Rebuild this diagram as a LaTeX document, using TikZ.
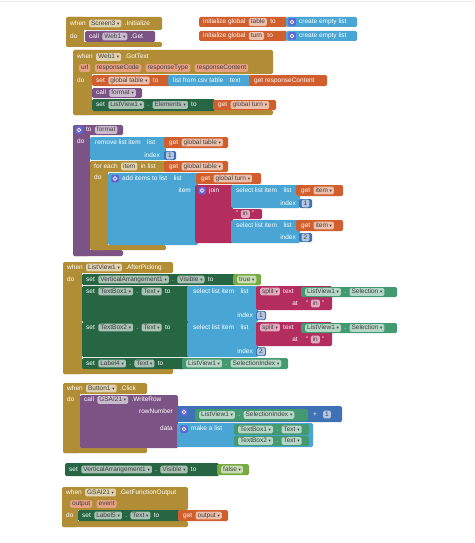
\documentclass[tikz,border=0pt]{standalone}
\usepackage{fontspec}
\setmainfont{Liberation Sans}
\newfontfamily\symfont{DejaVu Sans}
\usetikzlibrary{positioning}
\definecolor{ctrl}{RGB}{177,142,53}
\definecolor{method}{RGB}{124,83,133}
\definecolor{list}{RGB}{73,166,212}
\definecolor{textc}{RGB}{179,45,94}
\definecolor{var}{RGB}{208,95,45}
\definecolor{compset}{RGB}{38,102,67}
\definecolor{compget}{RGB}{67,153,112}
\definecolor{logic}{RGB}{119,171,65}
\definecolor{math}{RGB}{63,113,181}
\definecolor{gearcol}{RGB}{95,100,215}
\definecolor{parmcol}{RGB}{230,160,130}
\newcommand{\fs}{\fontsize{6.5}{7}\selectfont}
\newcommand{\dd}{~{\symfont\fontsize{4.5}{5}\selectfont ▾}}
% plain block and C-shaped block
\newcommand{\blk}[5]{\fill[#1, rounded corners=1.5pt] (#2,#3) rectangle (#4,#5);}
\newcommand{\cblk}[8]{%
  \fill[#1, rounded corners=1.5pt] (#2,#3) rectangle (#4,#5);
  \fill[#1, rounded corners=1.5pt] (#2,#3) rectangle (#6,#8);
  \fill[#1, rounded corners=1.5pt] (#2,#7) rectangle (#4,#8);}
\newcommand{\gear}[3]{\node[gearbox] (#1) at (#2,#3) {};
  \draw[white, line width=.7pt] (#1) circle (1.9pt);}
\newcommand{\numbox}[6]{\blk{math}{#2}{#3}{#4}{#5}
  \node[fld] (#1) at ({(#2+#4)/2},{(#3+#5)/2}) {#6};}

\begin{document}
\begin{tikzpicture}[x=1pt, y=-1pt, node distance=3pt,
  lbl/.style={inner sep=0pt, text=white, font=\fs, text height=4.6pt, text depth=1.3pt},
  fld/.style={fill=white, fill opacity=.6, text opacity=1, text=black!75, rounded corners=1.5pt,
    inner xsep=2pt, inner ysep=1pt, font=\fs, text height=4.6pt, text depth=1.3pt},
  prm/.style={fld, fill=parmcol, fill opacity=1},
  gearbox/.style={fill=gearcol, rounded corners=1pt, minimum size=7.5pt, inner sep=0pt},
  w/.style={anchor=west}
]
\useasboundingbox (0,0) rectangle (474,543);
\fill[white] (0,0) rectangle (474,543);
\draw[black!8, line width=1pt] (0,2) -- (474,2);

% when Screen3.Initialize
\cblk{ctrl}{66}{17}{162}{30}{84}{42}{47}
\node[lbl, w] (a1) at (70,23.5) {when};
\node[fld, right=of a1] (a2) {Screen3\dd};
\node[lbl, right=of a2] (a3) {.Initialize};
\node[lbl, w] (a4) at (70,36.5) {do};
\blk{method}{85}{31}{155}{42}
\node[lbl, w] (a5) at (89,36.5) {call};
\node[fld, right=of a5] (a6) {Web1\dd};
\node[lbl, right=of a6] (a7) {.Get};

% globals
\blk{var}{199}{17}{287}{27}
\node[lbl, w] (g1) at (203,22) {initialize global};
\node[fld, right=of g1] (g2) {table};
\node[lbl, right=of g2] (g3) {to};
\blk{list}{286}{17}{357}{27}
\gear{g4}{292}{22}
\node[lbl, right=of g4] (g5) {create empty list};
\blk{var}{199}{31}{287}{41}
\node[lbl, w] (g6) at (203,36) {initialize global};
\node[fld, right=of g6] (g7) {turn};
\node[lbl, right=of g7] (g8) {to};
\blk{list}{286}{31}{357}{41}
\gear{g9}{292}{36}
\node[lbl, right=of g9] (g10) {create empty list};

% when Web1.GotText
\cblk{ctrl}{73}{50}{273}{74}{92}{110}{115}
\node[lbl, w] (b1) at (77,57) {when};
\node[fld, right=of b1] (b2) {Web1\dd};
\node[lbl, right=of b2] (b3) {.GotText};
\node[prm, w] (b4) at (79,68) {url};
\node[prm, right=4pt of b4] (b5) {responseCode};
\node[prm, right=4pt of b5] (b6) {responseType};
\node[prm, right=4pt of b6] (b7) {responseContent};
\node[lbl, w] (b8) at (77,80.5) {do};
\blk{var}{92}{75}{170}{86}
\node[lbl, w] (b9) at (96,80.5) {set};
\node[fld, right=of b9] (b10) {global table\dd};
\node[lbl, right=of b10] (b11) {to};
\blk{list}{168}{75}{251}{86}
\node[lbl, w] (b12) at (173,80.5) {list from csv table\quad text};
\blk{var}{249}{75}{327}{86}
\node[lbl, w] (b13) at (254,80.5) {get responseContent};
\blk{method}{92}{88}{142}{98}
\node[lbl, w] (b14) at (96,93) {call};
\node[fld, right=of b14] (b15) {format\dd};
\blk{compset}{92}{99}{215}{111}
\node[lbl, w] (b16) at (96,105) {set};
\node[fld, right=of b16] (b17) {ListView1\dd};
\node[lbl, right=of b17] (b18) {.};
\node[fld, right=of b18] (b19) {Elements\dd};
\node[lbl, right=of b19] (b20) {to};
\blk{var}{213}{100}{276}{110}
\node[lbl, w] (b21) at (218,105) {get};
\node[fld, right=of b21] (b22) {global turn\dd};

% to format
\cblk{method}{73}{125}{123}{135}{90}{250}{256}
\gear{c1}{79}{130}
\node[lbl, right=of c1] (c2) {to};
\node[fld, right=of c2] (c3) {format};
\node[lbl, w] (c4) at (77,142) {do};
\blk{list}{90}{137}{166}{160}
\node[lbl, w] (c5) at (95,142.5) {remove list item\quad list};
\blk{var}{164}{137}{228}{148}
\node[lbl, w] (c6) at (169,142.5) {get};
\node[fld, right=of c6] (c7) {global table\dd};
\node[lbl, anchor=east] (c8) at (160,155.5) {index};
\numbox{c9}{164}{151}{176}{160}{1}
\cblk{ctrl}{90}{161}{166}{172}{108}{245}{250}
\node[lbl, w] (c10) at (94,166.5) {for each};
\node[fld, right=of c10] (c11) {item};
\node[lbl, right=of c11] (c12) {in list};
\blk{var}{164}{161}{228}{172}
\node[lbl, w] (c13) at (169,166.5) {get};
\node[fld, right=of c13] (c14) {global table\dd};
\node[lbl, w] (c15) at (94,178) {do};
\blk{list}{108}{173}{198}{245}
\gear{c16}{115}{178.5}
\node[lbl, right=of c16] (c17) {add items to list\quad list};
\blk{var}{196}{173}{261}{184}
\node[lbl, w] (c18) at (201,178.5) {get};
\node[fld, right=of c18] (c19) {global turn\dd};
\node[lbl, anchor=east] (c20) at (191,190.5) {item};
\blk{textc}{195}{185}{233}{243}
\gear{c21}{202}{190.5}
\node[lbl, right=of c21] (c22) {join};
\blk{list}{231}{185}{300}{208}
\node[lbl, w] (c23) at (236,190.5) {select list item\quad list};
\blk{var}{296}{185}{343}{196}
\node[lbl, w] (c24) at (301,190.5) {get};
\node[fld, right=of c24] (c25) {item\dd};
\node[lbl, anchor=east] (c26) at (296,203.5) {index};
\numbox{c27}{299}{199}{312}{208}{1}
\blk{textc}{231}{209}{262}{219}
\node[lbl, w] (c28) at (236,214) {"};
\node[fld, right=2pt of c28] (c29) {in};
\node[lbl, right=2pt of c29] (c30) {"};
\blk{list}{231}{220}{300}{243}
\node[lbl, w] (c31) at (236,225.5) {select list item\quad list};
\blk{var}{296}{220}{343}{231}
\node[lbl, w] (c32) at (301,225.5) {get};
\node[fld, right=of c32] (c33) {item\dd};
\node[lbl, anchor=east] (c34) at (296,238) {index};
\numbox{c35}{299}{233}{312}{242}{2}

% when ListView1.AfterPicking
\cblk{ctrl}{63}{262}{173}{273}{82}{368}{374}
\node[lbl, w] (d1) at (67,267.5) {when};
\node[fld, right=of d1] (d2) {ListView1\dd};
\node[lbl, right=of d2] (d3) {.AfterPicking};
\node[lbl, w] (d4) at (67,279.5) {do};
\blk{compset}{82}{274}{236}{285}
\node[lbl, w] (d5) at (86,279.5) {set};
\node[fld, right=of d5] (d6) {VerticalArrangement1\dd};
\node[lbl, right=of d6] (d7) {.};
\node[fld, right=of d7] (d8) {Visible\dd};
\node[lbl, right=of d8] (d9) {to};
\blk{logic}{233}{274}{261}{285}
\node[fld, w] (d10) at (237,279.5) {true\dd};
% set TextBox1.Text
\blk{compset}{82}{286}{190}{322}
\node[lbl, w] (d11) at (86,291.5) {set};
\node[fld, right=of d11] (d12) {TextBox1\dd};
\node[lbl, right=of d12] (d13) {.};
\node[fld, right=of d13] (d14) {Text\dd};
\node[lbl, right=of d14] (d15) {to};
\blk{list}{187}{286}{258}{322}
\node[lbl, w] (d16) at (193,291.5) {select list item\quad list};
\node[lbl, anchor=east] (d17) at (253,315.5) {index};
\numbox{d18}{256}{311}{266}{320}{1}
\blk{textc}{256}{286}{332}{310}
\node[fld, w] (d19) at (260,291.5) {split\dd};
\node[lbl, right=of d19] (d20) {text};
\blk{compget}{301}{287}{397}{297}
\node[fld, w] (d21) at (305,292) {ListView1\dd};
\node[lbl, right=of d21] (d22) {.};
\node[fld, right=of d22] (d23) {Selection\dd};
\node[lbl, anchor=east] (d24) at (298,303.5) {at};
\node[lbl, w] (d25) at (306,303.5) {"};
\node[fld, right=2pt of d25] (d26) {in};
\node[lbl, right=2pt of d26] (d27) {"};
% set TextBox2.Text
\blk{compset}{82}{322}{190}{357}
\node[lbl, w] (d28) at (86,327.5) {set};
\node[fld, right=of d28] (d29) {TextBox2\dd};
\node[lbl, right=of d29] (d30) {.};
\node[fld, right=of d30] (d31) {Text\dd};
\node[lbl, right=of d31] (d32) {to};
\blk{list}{187}{322}{258}{357}
\node[lbl, w] (d33) at (193,327.5) {select list item\quad list};
\node[lbl, anchor=east] (d34) at (253,351.5) {index};
\numbox{d35}{256}{347}{266}{356}{2}
\blk{textc}{256}{322}{332}{346}
\node[fld, w] (d36) at (260,327.5) {split\dd};
\node[lbl, right=of d36] (d37) {text};
\blk{compget}{301}{323}{397}{333}
\node[fld, w] (d38) at (305,328) {ListView1\dd};
\node[lbl, right=of d38] (d39) {.};
\node[fld, right=of d39] (d40) {Selection\dd};
\node[lbl, anchor=east] (d41) at (298,339.5) {at};
\node[lbl, w] (d42) at (306,339.5) {"};
\node[fld, right=2pt of d42] (d43) {in};
\node[lbl, right=2pt of d43] (d44) {"};
% set Label4.Text
\blk{compset}{82}{358}{185}{369}
\node[lbl, w] (d45) at (86,363.5) {set};
\node[fld, right=of d45] (d46) {Label4\dd};
\node[lbl, right=of d46] (d47) {.};
\node[fld, right=of d47] (d48) {Text\dd};
\node[lbl, right=of d48] (d49) {to};
\blk{compget}{182}{358}{288}{369}
\node[fld, w] (d50) at (186,363.5) {ListView1\dd};
\node[lbl, right=of d50] (d51) {.};
\node[fld, right=of d51] (d52) {SelectionIndex\dd};

% when Button1.Click
\cblk{ctrl}{63}{383}{147}{394}{80}{447}{453}
\node[lbl, w] (e1) at (67,388.5) {when};
\node[fld, right=of e1] (e2) {Button1\dd};
\node[lbl, right=of e2] (e3) {.Click};
\node[lbl, w] (e4) at (67,400) {do};
\blk{method}{80}{395}{178}{448}
\node[lbl, w] (e5) at (84,400) {call};
\node[fld, right=of e5] (e6) {GSAI21\dd};
\node[lbl, right=of e6] (e7) {.WriteRow};
\node[lbl, anchor=east] (e8) at (173,412) {rowNumber};
\blk{math}{177}{406}{342}{422}
\gear{e9}{184}{412}
\blk{compget}{195}{409}{308}{421}
\node[fld, w] (e10) at (199,415) {ListView1\dd};
\node[lbl, right=of e10] (e11) {.};
\node[fld, right=of e11] (e12) {SelectionIndex\dd};
\node[lbl, w] (e13) at (313,414.5) {+};
\node[fld, w] (e14) at (323,414.5) {1};
\node[lbl, anchor=east] (e15) at (173,429) {data};
\blk{list}{177}{423}{313}{447}
\gear{e16}{184}{429}
\node[lbl, right=of e16] (e17) {make a list};
\blk{compget}{234}{424}{309}{435}
\node[fld, w] (e18) at (238,429.5) {TextBox1\dd};
\node[lbl, right=of e18] (e19) {.};
\node[fld, right=of e19] (e20) {Text\dd};
\blk{compget}{234}{436}{309}{446}
\node[fld, w] (e21) at (238,441) {TextBox2\dd};
\node[lbl, right=of e21] (e22) {.};
\node[fld, right=of e22] (e23) {Text\dd};

% set VerticalArrangement1.Visible to false
\blk{compset}{65}{463}{219}{476}
\node[lbl, w] (f1) at (69,469.5) {set};
\node[fld, right=of f1] (f2) {VerticalArrangement1\dd};
\node[lbl, right=of f2] (f3) {.};
\node[fld, right=of f3] (f4) {Visible\dd};
\node[lbl, right=of f4] (f5) {to};
\blk{logic}{217}{464}{249}{475}
\node[fld, w] (f6) at (221,469.5) {false\dd};

% when GSAI21.GetFunctionOutput
\cblk{ctrl}{62}{487}{188}{510}{78}{521}{527}
\node[lbl, w] (h1) at (66,492.5) {when};
\node[fld, right=of h1] (h2) {GSAI21\dd};
\node[lbl, right=of h2] (h3) {.GetFunctionOutput};
\node[prm, w] (h4) at (70,504) {output};
\node[prm, right=4pt of h4] (h5) {event};
\node[lbl, w] (h6) at (66,515.5) {do};
\blk{compset}{78}{510}{180}{521}
\node[lbl, w] (h7) at (82,515.5) {set};
\node[fld, right=of h7] (h8) {Label5\dd};
\node[lbl, right=of h8] (h9) {.};
\node[fld, right=of h9] (h10) {Text\dd};
\node[lbl, right=of h10] (h11) {to};
\blk{var}{178}{510}{228}{521}
\node[lbl, w] (h12) at (183,515.5) {get};
\node[fld, right=of h12] (h13) {output\dd};
\end{tikzpicture}
\end{document}
